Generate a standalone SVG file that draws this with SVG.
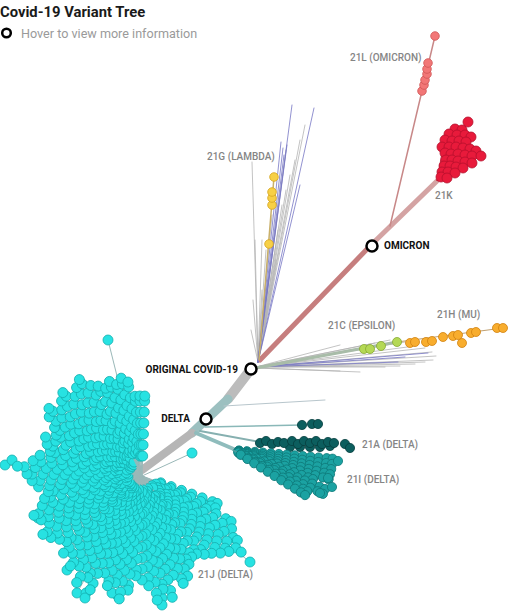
<svg xmlns="http://www.w3.org/2000/svg" width="510" height="612" viewBox="0 0 510 612">
<style>
.title{font:bold 14.8px Roboto,"Liberation Sans",sans-serif;fill:#1a1a1a}
.legend{font:12.6px Roboto,"Liberation Sans",sans-serif;fill:#9a9a9a}
.lab{font:500 10px Roboto,"Liberation Sans",sans-serif;fill:#858585}
.key{font:bold 10px Roboto,"Liberation Sans",sans-serif;fill:#111}
.knode{fill:#fff;stroke:#000;stroke-width:2.5}
.cc{fill:#27e2e2;stroke:#15b0b0;stroke-width:0.8}
.cl{stroke:#9ab8b8;stroke-width:1}
.tc{fill:#1ba2a2;stroke:#0f7a7a;stroke-width:0.8}
.tl{stroke:#4f9d9d;stroke-width:1}
.dc{fill:#0c5e5e;stroke:#063f3f;stroke-width:0.8}
.rc{fill:#e81a3b;stroke:#b5102c;stroke-width:0.8}
.rl{stroke:#c8203c;stroke-width:1}
.lc{fill:#f27777;stroke:#cf5656;stroke-width:0.8}
.yc{fill:#f7d046;stroke:#d6a51f;stroke-width:0.8}
.gc{fill:#b4d855;stroke:#86a833;stroke-width:0.8}
.oc{fill:#f8ad2e;stroke:#d0820f;stroke-width:0.8}
.fg{stroke:#b4b4b4;stroke-width:0.8;fill:none}
.fp{stroke:#7676c4;stroke-width:0.8;fill:none}
</style>
<defs>
<g id="rA"><line class="cl" x1="0" y1="0" x2="80" y2="0"/><circle class="cc" cx="20" cy="0" r="5"/><circle class="cc" cx="31" cy="0" r="5"/><circle class="cc" cx="42" cy="0" r="5"/><circle class="cc" cx="53" cy="0" r="5"/><circle class="cc" cx="64" cy="0" r="5"/><circle class="cc" cx="75" cy="0" r="5"/><circle class="cc" cx="80" cy="0" r="5"/></g>
<g id="rB"><line class="cl" x1="0" y1="0" x2="95" y2="0"/><circle class="cc" cx="24" cy="0" r="5"/><circle class="cc" cx="35" cy="0" r="5"/><circle class="cc" cx="46" cy="0" r="5"/><circle class="cc" cx="57" cy="0" r="5"/><circle class="cc" cx="68" cy="0" r="5"/><circle class="cc" cx="79" cy="0" r="5"/><circle class="cc" cx="90" cy="0" r="5"/><circle class="cc" cx="95" cy="0" r="5"/></g>
<g id="rC"><line class="cl" x1="0" y1="0" x2="104" y2="0"/><circle class="cc" cx="16" cy="0" r="5"/><circle class="cc" cx="27" cy="0" r="5"/><circle class="cc" cx="38" cy="0" r="5"/><circle class="cc" cx="49" cy="0" r="5"/><circle class="cc" cx="60" cy="0" r="5"/><circle class="cc" cx="71" cy="0" r="5"/><circle class="cc" cx="82" cy="0" r="5"/><circle class="cc" cx="93" cy="0" r="5"/><circle class="cc" cx="104" cy="0" r="5"/></g>
<g id="rD"><line class="cl" x1="0" y1="0" x2="115" y2="0"/><circle class="cc" cx="22" cy="0" r="5"/><circle class="cc" cx="33" cy="0" r="5"/><circle class="cc" cx="44" cy="0" r="5"/><circle class="cc" cx="55" cy="0" r="5"/><circle class="cc" cx="66" cy="0" r="5"/><circle class="cc" cx="77" cy="0" r="5"/><circle class="cc" cx="88" cy="0" r="5"/><circle class="cc" cx="99" cy="0" r="5"/><circle class="cc" cx="110" cy="0" r="5"/><circle class="cc" cx="115" cy="0" r="5"/></g>
<g id="rE"><line class="cl" x1="0" y1="0" x2="125" y2="0"/><circle class="cc" cx="19" cy="0" r="5"/><circle class="cc" cx="30" cy="0" r="5"/><circle class="cc" cx="41" cy="0" r="5"/><circle class="cc" cx="52" cy="0" r="5"/><circle class="cc" cx="63" cy="0" r="5"/><circle class="cc" cx="74" cy="0" r="5"/><circle class="cc" cx="85" cy="0" r="5"/><circle class="cc" cx="96" cy="0" r="5"/><circle class="cc" cx="107" cy="0" r="5"/><circle class="cc" cx="118" cy="0" r="5"/><circle class="cc" cx="125" cy="0" r="5"/></g>
<g id="rF"><line class="cl" x1="0" y1="0" x2="100" y2="0"/><circle class="cc" cx="28" cy="0" r="5"/><circle class="cc" cx="39" cy="0" r="5"/><circle class="cc" cx="50" cy="0" r="5"/><circle class="cc" cx="61" cy="0" r="5"/><circle class="cc" cx="72" cy="0" r="5"/><circle class="cc" cx="83" cy="0" r="5"/><circle class="cc" cx="94" cy="0" r="5"/><circle class="cc" cx="100" cy="0" r="5"/></g>
<g id="rG"><line class="cl" x1="0" y1="0" x2="110" y2="0"/><circle class="cc" cx="14" cy="0" r="5"/><circle class="cc" cx="25" cy="0" r="5"/><circle class="cc" cx="36" cy="0" r="5"/><circle class="cc" cx="47" cy="0" r="5"/><circle class="cc" cx="58" cy="0" r="5"/><circle class="cc" cx="69" cy="0" r="5"/><circle class="cc" cx="80" cy="0" r="5"/><circle class="cc" cx="91" cy="0" r="5"/><circle class="cc" cx="102" cy="0" r="5"/><circle class="cc" cx="110" cy="0" r="5"/></g>
<g id="t100"><line class="tl" x1="0" y1="0" x2="100" y2="0"/><circle class="tc" cx="6" cy="0" r="4.6"/><circle class="tc" cx="14" cy="0" r="4.6"/><circle class="tc" cx="22" cy="0" r="4.6"/><circle class="tc" cx="30" cy="0" r="4.6"/><circle class="tc" cx="38" cy="0" r="4.6"/><circle class="tc" cx="46" cy="0" r="4.6"/><circle class="tc" cx="54" cy="0" r="4.6"/><circle class="tc" cx="62" cy="0" r="4.6"/><circle class="tc" cx="70" cy="0" r="4.6"/><circle class="tc" cx="78" cy="0" r="4.6"/><circle class="tc" cx="86" cy="0" r="4.6"/><circle class="tc" cx="94" cy="0" r="4.6"/><circle class="tc" cx="100" cy="0" r="4.6"/></g>
<g id="t85"><line class="tl" x1="0" y1="0" x2="85" y2="0"/><circle class="tc" cx="9" cy="0" r="4.6"/><circle class="tc" cx="17" cy="0" r="4.6"/><circle class="tc" cx="25" cy="0" r="4.6"/><circle class="tc" cx="33" cy="0" r="4.6"/><circle class="tc" cx="41" cy="0" r="4.6"/><circle class="tc" cx="49" cy="0" r="4.6"/><circle class="tc" cx="57" cy="0" r="4.6"/><circle class="tc" cx="65" cy="0" r="4.6"/><circle class="tc" cx="73" cy="0" r="4.6"/><circle class="tc" cx="80" cy="0" r="4.6"/><circle class="tc" cx="85" cy="0" r="4.6"/></g>
</defs>

<text class="title" x="0" y="17">Covid-19 Variant Tree</text>
<circle class="knode" cx="6.5" cy="33" r="4.3"/>
<text class="legend" x="21" y="38">Hover to view more information</text>

<g id="connectors" stroke-linecap="round" fill="none">
  <polyline points="251,369 228,399" stroke="#bcbcbc" stroke-width="10"/>
  <polyline points="228,399 192,433" stroke="#9cc0c0" stroke-width="9"/>
  <polyline points="192,433 142,470" stroke="#b6b6b6" stroke-width="8"/>
  <line x1="196" y1="433" x2="236" y2="450" stroke="#8fbcbc" stroke-width="4"/>
  <line x1="200" y1="431" x2="260" y2="442" stroke="#86b0b0" stroke-width="2"/>
  <line x1="205" y1="427" x2="302" y2="425" stroke="#8ab8b8" stroke-width="1.5"/>
  <line x1="224" y1="406" x2="325" y2="400" stroke="#b8c6cc" stroke-width="1"/>
  <line x1="260" y1="360" x2="371" y2="245" stroke="#c67e7e" stroke-width="5"/>
  <line x1="371" y1="245" x2="437" y2="181" stroke="#d4a3a3" stroke-width="5"/>
  <line x1="390" y1="226" x2="435" y2="36" stroke="#c88888" stroke-width="1.5"/>
  <g class="fg">
    <path d="M258 362L252 162M258 362L251 330M258 362L253 300M258 362L255 240M258 362L262 240M258 362L266 250M258 362L272 215M258 362L278 230M258 362L282 205M258 362L286 190M258 362L290 175M258 362L295 160M258 362L300 140M258 362L305 125M258 362L286 150M258 362L276 260M258 362L268 280M258 362L262 290"/>
    <path d="M256 367L340 345M256 367L360 348M256 367L375 343M256 367L390 340M256 367L405 342M256 367L415 346M256 367L425 348M256 367L432 352M256 367L436 356M256 367L433 360M256 367L425 362M256 367L415 364M256 367L400 366M256 367L385 367M256 368L360 372M256 368L340 371"/>
  </g>
  <g class="fp">
    <path d="M258 362L292 105M258 362L314 108M258 362L281 142M258 362L283 148M258 362L284 155M258 362L287 145M258 362L300 185"/>
    <path d="M256 367L428 353M256 367L405 357M256 367L398 362"/>
  </g>
  <line x1="259" y1="360" x2="274" y2="177" stroke="#c9b06a" stroke-width="1.5"/>
  <line x1="256" y1="368" x2="397" y2="342" stroke="#a8bca8" stroke-width="3"/>
  <line x1="397" y1="342" x2="503" y2="328" stroke="#c0a070" stroke-width="1.2"/>
</g>

<g id="clade-21J">
  <g transform="translate(142,476)">
    <line class="cl" x1="0" y1="0" x2="-34" y2="-136"/><circle class="cc" cx="-34" cy="-136" r="5"/>
    <line class="cl" x1="0" y1="0" x2="108" y2="86"/><circle class="cc" cx="108" cy="86" r="5"/>
    <line class="cl" x1="0" y1="0" x2="-137" y2="-11"/><circle class="cc" cx="-137" cy="-11" r="5"/><circle class="cc" cx="-130" cy="-16" r="5"/>
    <line class="cl" x1="0" y1="0" x2="-65" y2="117"/><circle class="cc" cx="-65" cy="117" r="5"/><circle class="cc" cx="-56" cy="117" r="5"/><circle class="cc" cx="-57" cy="122" r="5"/>
    <line class="cl" x1="0" y1="0" x2="-25" y2="119"/><circle class="cc" cx="-25" cy="119" r="5"/><circle class="cc" cx="-30" cy="117" r="5"/>
    <line class="cl" x1="0" y1="0" x2="20" y2="129"/><circle class="cc" cx="20" cy="122" r="5"/><circle class="cc" cx="20" cy="129" r="5"/>
    <line class="cl" x1="0" y1="0" x2="-104" y2="42"/><circle class="cc" cx="-104" cy="42" r="5"/>
    <line class="cl" x1="0" y1="0" x2="-75" y2="94"/><circle class="cc" cx="-75" cy="94" r="5"/>
    <line class="cl" x1="0" y1="0" x2="61" y2="27"/><circle class="cc" cx="61" cy="27" r="5"/>
    <line class="cl" x1="0" y1="0" x2="50" y2="-23"/><circle class="cc" cx="50" cy="-23" r="5"/>
    <use href="#rA" transform="rotate(20)"/>
    <use href="#rA" transform="rotate(23.5)"/>
    <use href="#rF" transform="rotate(27)"/>
    <use href="#rC" transform="rotate(30.5)"/>
    <use href="#rD" transform="rotate(34)"/>
    <use href="#rE" transform="rotate(37.5)"/>
    <use href="#rD" transform="rotate(41)"/>
    <use href="#rG" transform="rotate(44.5)"/>
    <use href="#rC" transform="rotate(48)"/>
    <use href="#rF" transform="rotate(51.5)"/>
    <use href="#rB" transform="rotate(55)"/>
    <use href="#rB" transform="rotate(58.5)"/>
    <use href="#rF" transform="rotate(62)"/>
    <use href="#rG" transform="rotate(65.5)"/>
    <use href="#rD" transform="rotate(69)"/>
    <use href="#rC" transform="rotate(72.5)"/>
    <use href="#rE" transform="rotate(76)"/>
    <use href="#rD" transform="rotate(79.5)"/>
    <use href="#rE" transform="rotate(83)"/>
    <use href="#rG" transform="rotate(86.5)"/>
    <use href="#rC" transform="rotate(90)"/>
    <use href="#rF" transform="rotate(93.5)"/>
    <use href="#rD" transform="rotate(97)"/>
    <use href="#rE" transform="rotate(100.5)"/>
    <use href="#rG" transform="rotate(104)"/>
    <use href="#rD" transform="rotate(107.5)"/>
    <use href="#rC" transform="rotate(111)"/>
    <use href="#rE" transform="rotate(114.5)"/>
    <use href="#rD" transform="rotate(118)"/>
    <use href="#rE" transform="rotate(121.5)"/>
    <use href="#rG" transform="rotate(125)"/>
    <use href="#rD" transform="rotate(128.5)"/>
    <use href="#rC" transform="rotate(132)"/>
    <use href="#rG" transform="rotate(135.5)"/>
    <use href="#rF" transform="rotate(139)"/>
    <use href="#rC" transform="rotate(142.5)"/>
    <use href="#rG" transform="rotate(146)"/>
    <use href="#rD" transform="rotate(149.5)"/>
    <use href="#rC" transform="rotate(153)"/>
    <use href="#rG" transform="rotate(156.5)"/>
    <use href="#rD" transform="rotate(160)"/>
    <use href="#rC" transform="rotate(163.5)"/>
    <use href="#rF" transform="rotate(167)"/>
    <use href="#rB" transform="rotate(170.5)"/>
    <use href="#rC" transform="rotate(174)"/>
    <use href="#rG" transform="rotate(177.5)"/>
    <use href="#rD" transform="rotate(181)"/>
    <use href="#rE" transform="rotate(184.5)"/>
    <use href="#rG" transform="rotate(188)"/>
    <use href="#rC" transform="rotate(191.5)"/>
    <use href="#rB" transform="rotate(195)"/>
    <use href="#rF" transform="rotate(198.5)"/>
    <use href="#rC" transform="rotate(202)"/>
    <use href="#rB" transform="rotate(205.5)"/>
    <use href="#rF" transform="rotate(209)"/>
    <use href="#rG" transform="rotate(212.5)"/>
    <use href="#rD" transform="rotate(216)"/>
    <use href="#rC" transform="rotate(219.5)"/>
    <use href="#rG" transform="rotate(223)"/>
    <use href="#rD" transform="rotate(226.5)"/>
    <use href="#rC" transform="rotate(230)"/>
    <use href="#rG" transform="rotate(233.5)"/>
    <use href="#rD" transform="rotate(237)"/>
    <use href="#rC" transform="rotate(240.5)"/>
    <use href="#rF" transform="rotate(244)"/>
    <use href="#rB" transform="rotate(247.5)"/>
    <use href="#rF" transform="rotate(251)"/>
    <use href="#rB" transform="rotate(254.5)"/>
    <use href="#rF" transform="rotate(258)"/>
    <use href="#rB" transform="rotate(261.5)"/>
    <use href="#rA" transform="rotate(265)"/>
    <use href="#rA" transform="rotate(268.5)"/>
    <use href="#rA" transform="rotate(272)"/>
  </g>
</g>

<g id="clade-21A">
  <circle class="dc" cx="302" cy="425" r="4.6"/><circle class="dc" cx="312" cy="424" r="4.6"/><circle class="dc" cx="318" cy="424" r="4.6"/>
  <circle class="dc" cx="290" cy="447" r="4.6"/><circle class="dc" cx="300" cy="447" r="4.6"/><circle class="dc" cx="310" cy="447" r="4.6"/><circle class="dc" cx="320" cy="447" r="4.6"/><circle class="dc" cx="330" cy="446" r="4.6"/>
  <circle class="dc" cx="260" cy="443" r="4.6"/><circle class="dc" cx="266" cy="441" r="4.6"/><circle class="dc" cx="272" cy="444" r="4.6"/><circle class="dc" cx="278" cy="442" r="4.6"/><circle class="dc" cx="284" cy="443" r="4.6"/><circle class="dc" cx="292" cy="441" r="4.6"/><circle class="dc" cx="298" cy="444" r="4.6"/><circle class="dc" cx="304" cy="441" r="4.6"/><circle class="dc" cx="310" cy="443" r="4.6"/><circle class="dc" cx="316" cy="441" r="4.6"/><circle class="dc" cx="322" cy="444" r="4.6"/><circle class="dc" cx="328" cy="442" r="4.6"/><circle class="dc" cx="334" cy="443" r="4.6"/><circle class="dc" cx="345" cy="444" r="4.6"/><circle class="dc" cx="350" cy="448" r="4.6"/>
</g>

<g id="clade-21I">
  <g transform="translate(233,450)">
    <use href="#t100" transform="rotate(5)"/>
    <use href="#t100" transform="rotate(8)"/>
    <use href="#t100" transform="rotate(11)"/>
    <use href="#t100" transform="rotate(14)"/>
    <use href="#t100" transform="rotate(17)"/>
    <use href="#t85" transform="rotate(20)"/>
    <use href="#t100" transform="rotate(23)"/>
    <use href="#t100" transform="rotate(26)"/>
    <use href="#t85" transform="rotate(29)"/>
    <use href="#t85" transform="rotate(32)"/>
  </g>
  <circle class="tc" cx="338" cy="461" r="4.6"/><circle class="tc" cx="328" cy="478" r="4.6"/><circle class="tc" cx="332" cy="487" r="4.6"/><circle class="tc" cx="320" cy="493" r="4.6"/>
</g>

<g id="clade-21K">
  <path class="rl" d="M437 181L468 122M437 181L450 135M437 181L481 156M437 181L443 147M437 181L472 136"/>
  <circle class="rc" cx="468" cy="122" r="5"/>
  <circle class="rc" cx="455" cy="129" r="5"/><circle class="rc" cx="462" cy="130" r="5"/>
  <circle class="rc" cx="449" cy="134" r="5"/><circle class="rc" cx="457" cy="135" r="5"/><circle class="rc" cx="465" cy="135" r="5"/><circle class="rc" cx="471" cy="137" r="5"/>
  <circle class="rc" cx="445" cy="140" r="5"/><circle class="rc" cx="452" cy="141" r="5"/><circle class="rc" cx="459" cy="141" r="5"/><circle class="rc" cx="466" cy="142" r="5"/>
  <circle class="rc" cx="442" cy="147" r="5"/><circle class="rc" cx="449" cy="147" r="5"/><circle class="rc" cx="456" cy="147" r="5"/><circle class="rc" cx="463" cy="148" r="5"/><circle class="rc" cx="470" cy="149" r="5"/><circle class="rc" cx="476" cy="151" r="5"/>
  <circle class="rc" cx="445" cy="153" r="5"/><circle class="rc" cx="451" cy="154" r="5"/><circle class="rc" cx="458" cy="154" r="5"/><circle class="rc" cx="465" cy="155" r="5"/><circle class="rc" cx="472" cy="156" r="5"/><circle class="rc" cx="481" cy="156" r="5"/>
  <circle class="rc" cx="446" cy="160" r="5"/><circle class="rc" cx="452" cy="160" r="5"/><circle class="rc" cx="458" cy="161" r="5"/><circle class="rc" cx="465" cy="162" r="5"/><circle class="rc" cx="472" cy="163" r="5"/>
  <circle class="rc" cx="444" cy="166" r="5"/><circle class="rc" cx="450" cy="166" r="5"/><circle class="rc" cx="456" cy="167" r="5"/><circle class="rc" cx="463" cy="168" r="5"/>
  <circle class="rc" cx="442" cy="172" r="5"/><circle class="rc" cx="448" cy="172" r="5"/><circle class="rc" cx="455" cy="173" r="5"/>
  <circle class="rc" cx="441" cy="177" r="5"/><circle class="rc" cx="447" cy="178" r="5"/>
</g>

<g id="clade-21L">
  <circle class="lc" cx="435" cy="36" r="4.3"/>
  <circle class="lc" cx="422" cy="91" r="4.3"/><circle class="lc" cx="424" cy="85" r="4.3"/><circle class="lc" cx="425" cy="80" r="4.3"/><circle class="lc" cx="427" cy="74" r="4.3"/><circle class="lc" cx="427" cy="69" r="4.3"/><circle class="lc" cx="428" cy="63" r="4.3"/>
</g>

<g id="clade-21G">
  <circle class="yc" cx="269" cy="244" r="4.3"/><circle class="yc" cx="272" cy="205" r="4.3"/><circle class="yc" cx="272" cy="198" r="4.3"/><circle class="yc" cx="272" cy="192" r="4.3"/><circle class="yc" cx="274" cy="177" r="4.3"/>
</g>

<g id="clade-21C">
  <circle class="gc" cx="364" cy="349" r="4.5"/><circle class="gc" cx="370" cy="349" r="4.5"/><circle class="gc" cx="381" cy="346" r="4.5"/><circle class="gc" cx="397" cy="342" r="4.5"/>
</g>

<g id="clade-21H">
  <circle class="oc" cx="410" cy="343" r="4.5"/><circle class="oc" cx="415" cy="342" r="4.5"/><circle class="oc" cx="426" cy="342" r="4.5"/><circle class="oc" cx="432" cy="341" r="4.5"/><circle class="oc" cx="443" cy="337" r="4.5"/><circle class="oc" cx="462" cy="343" r="4.5"/><circle class="oc" cx="453" cy="336" r="4.5"/><circle class="oc" cx="458" cy="335" r="4.5"/><circle class="oc" cx="471" cy="333" r="4.5"/><circle class="oc" cx="476" cy="332" r="4.5"/><circle class="oc" cx="497" cy="328" r="4.5"/><circle class="oc" cx="503" cy="328" r="4.5"/>
</g>

<g id="node-original"><circle class="knode" cx="251" cy="369" r="5.5"/><text class="key" x="238" y="373" text-anchor="end">ORIGINAL COVID-19</text></g>
<g id="node-delta"><circle class="knode" cx="206" cy="419" r="5.5"/><text class="key" x="190" y="422" text-anchor="end">DELTA</text></g>
<g id="node-omicron"><circle class="knode" cx="372" cy="246" r="5.5"/><text class="key" x="384" y="249">OMICRON</text></g>

<g id="labels">
  <text class="lab" x="350" y="61">21L (OMICRON)</text>
  <text class="lab" x="435" y="199">21K</text>
  <text class="lab" x="207" y="160">21G (LAMBDA)</text>
  <text class="lab" x="328" y="329">21C (EPSILON)</text>
  <text class="lab" x="437" y="318">21H (MU)</text>
  <text class="lab" x="362" y="448">21A (DELTA)</text>
  <text class="lab" x="347" y="483">21I (DELTA)</text>
  <text class="lab" x="198" y="578">21J (DELTA)</text>
</g>
</svg>
